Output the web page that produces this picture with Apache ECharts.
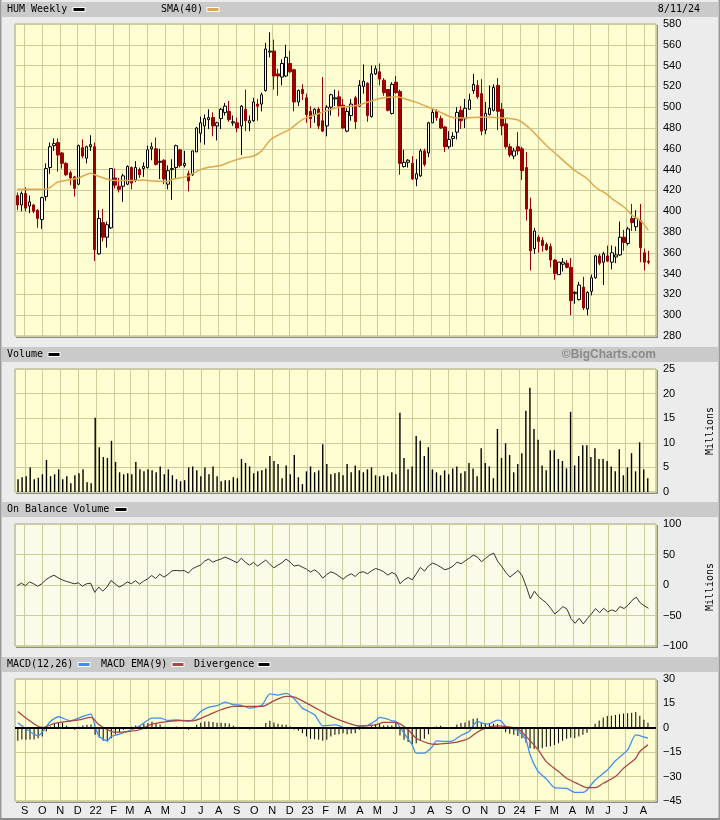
<!DOCTYPE html>
<html>
<head>
<meta charset="utf-8">
<script src="https://cdn.jsdelivr.net/npm/echarts@6/dist/echarts.min.js"></script>
<style>html,body{margin:0;padding:0;background:#ececec;}#c{width:720px;height:820px;}</style>
</head>
<body>
<div id="c"></div>
<script>
// ---- DATA (weekly bars, first bar week of 2021-08-20) ----
const opens = [415,406,417,405,406,401,392,414,442,463,466,456,446,437,433,426,461,451,462,462,
359,389,375,384,432,424,424,426,442,430,440,441,442,460,460,447,449,426,440,442,
459,444,436,435,457,475,482,488,490,482,489,495,496,485,485,
482,498,485,487,503,503,516,553,554,532,529,530,542,536,505,517,509,496,493,498,
487,482,500,508,510,502,477,492,509,501,520,523,491,532,534,526,517,494,524,515,
443,447,446,431,434,458,456,485,496,489,481,462,470,476,497,489,498,516,521,
513,478,493,497,521,498,484,462,453,462,460,442,402,364,375,372,368,366,353,339,
349,350,346,321,315,327,306,323,336,357,351,357,351,356,358,375,369,393,385,391,360,352];
const closes = [406,417,403,409,400,393,413,441,462,465,454,446,435,432,422,463,453,462,464,363,
393,375,387,441,425,421,434,443,427,442,435,443,459,462,445,448,431,439,441,463,
444,446,429,458,480,485,489,490,482,485,498,501,488,486,480,
501,487,487,505,501,512,556,554,530,530,542,548,534,505,516,513,493,489,498,482,
477,500,512,509,501,480,496,503,486,521,525,492,532,537,527,514,497,522,514,446,
447,449,431,436,458,445,485,495,490,480,462,469,472,495,487,499,507,522,510,
477,494,499,519,496,482,462,454,458,458,439,402,362,381,371,367,363,353,340,351,
351,346,314,322,329,307,322,336,357,350,359,352,360,358,375,370,383,389,393,365,351,351];
const lows = [401,400,400,398,398,384,383,410,436,458,438,441,434,425,414,425,451,446,458,352,
358,371,365,383,422,418,409,425,421,428,432,433,441,449,444,431,426,421,411,432,
442,442,419,434,457,466,464,479,472,468,479,492,486,482,476,
454,477,477,486,487,496,515,548,517,511,521,529,533,496,501,507,485,480,485,479,
476,472,492,501,491,479,476,487,479,501,513,486,490,531,521,511,496,493,513,435,
442,442,430,424,433,443,452,485,487,479,457,460,462,469,479,480,498,513,508,
473,474,492,496,478,473,460,452,450,454,430,391,343,359,360,361,362,346,334,339,
342,345,300,311,314,305,300,319,335,348,329,351,344,350,357,362,367,381,381,351,343,349];
const highs = [418,419,423,415,407,402,414,446,466,470,470,457,447,439,434,464,469,463,473,466,
401,402,390,441,441,432,436,444,443,448,442,447,463,466,471,460,450,444,450,464,
460,458,439,458,481,491,493,498,495,486,499,504,506,492,490,
502,517,492,509,508,514,562,572,565,537,546,560,554,537,517,522,513,501,499,500,
529,502,513,517,516,508,499,508,511,526,541,524,540,540,542,528,517,524,530,517,
459,450,453,450,460,460,486,499,498,492,482,477,476,500,501,508,513,532,526,
527,505,521,522,528,504,489,465,461,476,462,457,413,384,377,375,370,369,354,351,
355,353,355,323,332,337,323,339,358,359,361,367,367,366,390,382,385,407,401,407,364,362];
const volumes = [2.6,3.0,3.2,5.0,2.6,2.9,3.6,6.5,3.2,3.6,4.6,2.6,3.2,1.8,3.4,3.8,4.6,2.0,1.8,15.1,
9.1,7.1,6.9,10.4,6.1,4.0,3.6,3.8,3.6,6.1,4.6,4.2,4.6,4.4,4.0,5.2,3.6,4.6,3.4,2.6,
2.2,2.4,5.0,5.2,4.4,3.2,5.0,3.6,5.2,3.2,2.2,2.4,2.4,3.0,2.8,6.7,5.9,5.2,3.8,4.2,
4.4,4.8,7.3,6.3,5.7,2.8,5.4,3.6,7.5,3.0,1.6,4.2,5.2,4.0,4.4,9.7,5.7,3.6,3.8,4.0,
3.4,5.7,4.0,5.4,4.4,4.0,4.6,5.0,3.4,3.2,3.4,3.2,4.0,3.6,16.1,6.9,4.6,5.2,11.4,10.4,
7.3,9.1,4.6,4.0,3.4,4.4,3.6,4.8,5.2,3.8,4.2,5.9,4.8,3.2,8.9,5.9,5.2,2.8,12.8,6.9,
9.9,7.5,4.0,5.7,7.9,16.5,21.2,12.8,10.6,5.4,4.4,8.5,8.5,6.7,6.3,4.8,16.3,5.4,7.3,9.5,
9.5,7.1,8.9,6.7,6.7,6.3,5.2,4.2,8.7,3.4,5.0,7.9,4.2,10.1,4.6,2.8];
const obv = [-1,3,-1,5,2,-2,2,8.5,13,16,12,8.5,6,4,2,3.5,-2,2,3,-12,
-3.5,-10,-3.5,7.4,2,-3.5,0,5,2,7,1.4,6.3,10,15.6,10.7,17.8,12.9,17.3,23.3,23.8,
23.3,23.8,19.5,26.6,29.9,32.6,39.2,42.5,37.5,40.3,42.5,45.8,43,39.7,36.4,44,37.5,32.6,37,31,
35.9,40.8,34.2,28.2,32.6,36.4,42.5,37.5,31,32.6,29.3,26,21.1,24.9,20,11.2,17.3,21.6,18.9,14.5,
9.6,15,18.4,14,20.5,21.6,18.4,23.3,27.1,24.9,21.6,16.2,20.5,17.3,2,8.5,12.3,8.5,18.4,28.8,
22.7,31.5,35.9,33.2,29.3,24.9,27.1,31,37.5,34.8,39.7,44.1,49,45.8,38.1,43.6,49,52.3,38.6,29.9,
20.5,12.9,18.4,23.8,15,-2.5,-22.7,-10.1,-18.9,-24.4,-29.9,-38.1,-47.4,-41.9,-35.3,-39.7,-55.1,-62.7,-54.5,-63.8,
-55,-47.4,-38.6,-45.2,-38.1,-44.1,-40.8,-43.6,-35.3,-38.6,-33.2,-25,-20,-29.3,-34.2,-38.1];
const divergence = [-8,-7.2,-7.4,-7.2,-7.2,-6.4,-5.3,-2.3,0.8,2.5,3.1,3.3,1.2,0.2,-1.2,0.6,1.4,1.8,2.1,-4.3,
-6,-8,-8.4,-6.4,-3.9,-2.9,-1.2,0.2,0.6,1.4,1.4,2.5,2.9,3.7,2.7,2.1,0.6,0.2,-0.2,0.8,
0,-0.2,-1.2,-0.6,1.8,3.1,3.9,3.9,3.5,3.1,3.1,2.9,2.7,1.2,0.2,0,0,-1,0,0,
0,2.9,4.3,3.3,2.5,2.1,1.8,0.8,-1,-1.8,-3.3,-5.3,-6.8,-7,-7.4,-8,-7.4,-5.3,-4.3,-3.9,
-3.3,-3.9,-3.5,-3.3,-1.2,0.6,-0.6,1,2.3,2.9,1.4,1.4,1.4,2.9,-4.7,-7.4,-8.8,-10.1,-9.5,-8,
-6.8,-3.9,-0.6,0.8,1.2,0,-0.2,0,2.1,2.9,3.3,4.5,5.5,5.8,3.3,2.7,2.3,2.5,2.3,0.2,
-2.7,-3.7,-4.3,-5.1,-6.4,-9,-12.5,-13.1,-13.1,-12.5,-11.7,-11.3,-10.5,-9.5,-8,-6.8,-6,-6.4,-5.3,-4.3,
-3.1,0,2.5,4.5,6.4,7.2,7.4,7.8,8.4,8.8,9,9.2,9.7,7.4,4.9,3.1];
// sampled lines: [week index, value]
const sma40 = [[0,421],[7,421],[10,428],[15,432],[18,436.6],[19,435],[22,431],[24,429.5],[28,429.5],[31,430],[33,429],[37,428.6],[38,430.5],[42,433.7],[43,436],[45,440],[47,442.3],[50,444],[52,447],[55,451],[58,453],[60,458],[62,468],[64,473],[67,479],[70,488],[73,492.5],[76,496.6],[79,500],[83,501.4],[87,506],[89,508.4],[93,510],[95,508.4],[98,504.6],[101,500],[104,495],[107,490],[110,489.6],[114,490.5],[119,489.6],[123,487.7],[126,479],[128,471],[130,463],[132,456],[135,445.5],[137,439],[140,431],[142,423],[145,415.8],[146,412],[149,404],[151,396],[153,391],[155,381.6]];
const macdLine = [[0,3.1],[5,-4.9],[8,3.9],[10,6.8],[13,4.3],[15,6],[16,7],[18,8.4],[19,0.8],[20,-5.3],[22,-8],[23,-5.3],[25,-3.9],[28,-1.2],[30,1.2],[33,6],[35,6],[37,4.5],[39,4.9],[42,3.9],[43,4.9],[45,10],[47,12.7],[49,13.6],[51,15.8],[53,14.2],[55,13.8],[57,12.1],[60,13.8],[62,20.8],[64,20.1],[66,21.2],[68,17.9],[70,12.1],[73,8],[75,1.2],[78,1.8],[79,1.4],[81,-0.6],[83,-0.6],[84,0.8],[86,1.4],[88,4.3],[89,6.4],[91,5.3],[92,4.3],[93,3.9],[95,-3.3],[97,-10.5],[98,-15.6],[100,-15.6],[102,-11.5],[103,-8],[105,-8.4],[107,-8],[109,-4.7],[111,-2.3],[113,3.9],[115,2.3],[116,2.5],[118,4.7],[119,3.9],[120,0.8],[123,-1.8],[125,-7.4],[126,-16.6],[128,-26.9],[130,-31.4],[132,-36.8],[135,-37.2],[137,-39.7],[139,-39.7],[140,-38.2],[142,-32.1],[145,-25.9],[147,-20.3],[150,-13.6],[152,-4.3],[155,-6.4]];
const macdSignal = [[0,10],[2,6],[6,0.2],[9,2.7],[12,3.9],[15,4.9],[18,6.4],[20,1.8],[24,-2.7],[27,-2.3],[30,-1.2],[33,2.3],[37,3.9],[40,4.5],[43,4.3],[47,8],[50,11.1],[53,13.2],[56,13.2],[60,13.2],[63,16.6],[66,19.3],[68,18.9],[71,15.2],[74,11.1],[77,7],[79,4.9],[82,2.3],[84,1.2],[88,1.8],[90,3.3],[93,3.3],[96,-1.2],[98,-6.4],[101,-9.5],[103,-10.1],[106,-9.5],[108,-8.8],[111,-6.4],[113,-2.7],[115,-0.2],[118,1.2],[120,0.8],[123,-0.6],[125,-5.3],[128,-13.6],[130,-20.8],[133,-26.9],[135,-31],[138,-34.7],[140,-36.8],[142,-36.8],[144,-34.1],[147,-30],[149,-24.9],[152,-18.7],[153,-14.6],[155,-10.5]];
const monthLetters = ['J','F','M','A','M','J','J','A','S','O','N','D'];

// ---- helpers ----
function weekTs(i){ return new Date(2021, 7, 20 + Math.round(7*i)).getTime(); }
const xMin = new Date(2021, 7, 16).getTime();
const xMax = new Date(2024, 7, 22).getTime();
const DAY = 86400000;

const candleData = opens.map((o,i)=>[weekTs(i), o, closes[i], lows[i], highs[i]]);
const volData = volumes.map((v,i)=>[weekTs(i), v]);
const obvData = obv.map((v,i)=>[weekTs(i), v]);
const divData = divergence.map((v,i)=>[weekTs(i), v]);
const smaData = sma40.map(p=>[weekTs(p[0]), p[1]]);
const macdData = macdLine.map(p=>[weekTs(p[0]), p[1]]);
const sigData = macdSignal.map(p=>[weekTs(p[0]), p[1]]);

const GRID_L = 15, GRID_W = 641;
const panels = [
  {top:24, height:312, min:280, max:580, interval:20, bg:'#fefed2'},
  {top:369, height:123, min:0, max:25, interval:5, bg:'#fefed2'},
  {top:524, height:122, min:-100, max:100, interval:50, bg:'#fbfbea'},
  {top:679, height:122, min:-45, max:30, interval:15, bg:'#fefed2'}
];
const GRIDC = '#cccc99';
const MONO = '"DejaVu Sans Mono", monospace';
const SANS = '"Liberation Sans", Arial, sans-serif';

const grid = panels.map(p=>({left:GRID_L, width:GRID_W, top:p.top, height:p.height, show:true,
  backgroundColor:p.bg, borderColor:'#aaaa7a', borderWidth:1}));
const xAxis = panels.map((p,i)=>({
  type:'time', gridIndex:i, min:xMin, max:xMax, minInterval:40*DAY, maxInterval:40*DAY,
  axisLine:{show:false}, axisTick:{show:false},
  splitLine:{show:true, lineStyle:{color:GRIDC, width:1}},
  axisLabel:{show:i===3, margin:4, color:'#000', fontSize:11, fontFamily:SANS, hideOverlap:false,
    formatter:function(val){ const d=new Date(val); if(d.getDate()!==1) return '';
      const m=d.getMonth(); return m===0 ? String(d.getFullYear()).slice(2) : monthLetters[m]; }}
}));
const yAxis = panels.map((p,i)=>({
  type:'value', gridIndex:i, position:'right', min:p.min, max:p.max, interval:p.interval,
  axisLine:{show:false}, axisTick:{show:false},
  splitLine:{show:true, lineStyle:{color:GRIDC, width:1}},
  axisLabel:{margin:7, color:'#000', fontSize:11, fontFamily:SANS,
    formatter:function(v){ return String(v).replace('-', '\u2212'); }}
}));

// ---- graphic (headers, legends, frame) ----
const g = [];
function bar(y){ g.push({type:'rect', shape:{x:2, y:y, width:716, height:15}, style:{fill:'#cacaca'}, silent:true}); }
function txt(x,y,t,opt){ opt=opt||{}; g.push({type:'text', x:x, y:y, rotation:opt.rot||0, silent:true,
  style:{text:t, fill:opt.fill||'#000', font:opt.font||('10px '+MONO), textAlign:opt.align||'left', textVerticalAlign:'middle'}}); }
function sw(x,y,fill){ g.push({type:'rect', shape:{x:x, y:y, width:12, height:4}, style:{fill:fill, stroke:'#fff', lineWidth:1}, silent:true}); }
bar(2); bar(347); bar(502); bar(657);
txt(7,9.5,'HUM Weekly'); sw(73,7.5,'#000');
txt(161,9.5,'SMA(40)'); sw(207,7.5,'#dda54c');
txt(700,9.5,'8/11/24',{align:'right'});
txt(7,354.5,'Volume'); sw(48,352.5,'#000');
txt(656,354.5,'\u00A9BigCharts.com',{align:'right', fill:'#8a8a8a', font:'bold 12px '+SANS});
txt(7,509.5,'On Balance Volume'); sw(115,507.5,'#000');
txt(7,664.5,'MACD(12,26)'); sw(78,662.5,'#3d8ef0');
txt(101,664.5,'MACD EMA(9)'); sw(172,662.5,'#a84646');
txt(194,664.5,'Divergence'); sw(258,662.5,'#000');
txt(710,431,'Millions',{rot:Math.PI/2, align:'center'});
txt(710,587,'Millions',{rot:Math.PI/2, align:'center'});
panels.forEach(p=>{
  g.push({type:'rect', shape:{x:GRID_L+1, y:p.top+p.height+0.5, width:GRID_W+1, height:1.5}, style:{fill:'#8e8e8e'}, silent:true});
  g.push({type:'rect', shape:{x:GRID_L+GRID_W+0.5, y:p.top+1, width:1.5, height:p.height+1}, style:{fill:'#8e8e8e'}, silent:true});
});
g.push({type:'rect', shape:{x:0, y:0, width:1.5, height:820}, style:{fill:'#9a9a9a'}, silent:true});
g.push({type:'rect', shape:{x:718.5, y:0, width:1.5, height:820}, style:{fill:'#9a9a9a'}, silent:true});
g.push({type:'rect', shape:{x:0, y:818, width:720, height:2}, style:{fill:'#8a8a8a'}, silent:true});

const chart = echarts.init(document.getElementById('c'), null, {renderer:'canvas'});
chart.setOption({
  backgroundColor:'#ececec',
  animation:false,
  grid:grid, xAxis:xAxis, yAxis:yAxis,
  graphic:{elements:g},
  series:[
    {type:'candlestick', xAxisIndex:0, yAxisIndex:0, data:candleData, barWidth:3,
     encode:{x:0, y:[1,2,3,4]},
     itemStyle:{color:'#ffffee', color0:'#990000', borderColor:'#000', borderColor0:'#990000', borderWidth:1}},
    {type:'line', xAxisIndex:0, yAxisIndex:0, data:smaData, symbol:'none', smooth:0.3,
     lineStyle:{color:'#dfa850', width:1.5}},
    {type:'bar', xAxisIndex:1, yAxisIndex:1, data:volData, barWidth:1.4, itemStyle:{color:'#000'}},
    {type:'line', xAxisIndex:2, yAxisIndex:2, data:obvData, symbol:'none', lineStyle:{color:'#333', width:1}},
    {type:'bar', xAxisIndex:3, yAxisIndex:3, data:divData, barWidth:1, itemStyle:{color:'#000'},
     markLine:{silent:true, symbol:'none', label:{show:false}, lineStyle:{color:'#000', width:2, type:'solid'}, data:[{yAxis:0}]}},
    {type:'line', xAxisIndex:3, yAxisIndex:3, data:macdData, symbol:'none', smooth:0.2, lineStyle:{color:'#3d8ef0', width:1.3}},
    {type:'line', xAxisIndex:3, yAxisIndex:3, data:sigData, symbol:'none', smooth:0.3, lineStyle:{color:'#a84646', width:1.3}}
  ]
});
</script>
</body>
</html>
